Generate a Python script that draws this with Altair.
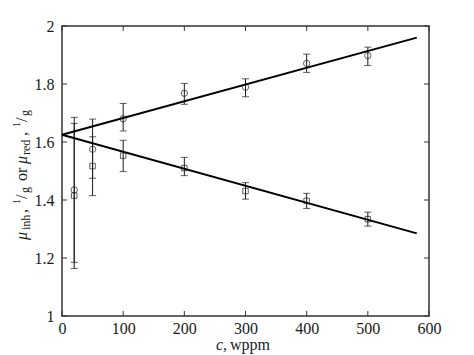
import altair as alt
import pandas as pd

# ---- data ----
c_vals = [20, 50, 100, 200, 300, 400, 500]

red_vals = [1.435, 1.575, 1.680, 1.768, 1.789, 1.871, 1.898]
red_lo = [1.185, 1.475, 1.638, 1.730, 1.756, 1.840, 1.864]
red_hi = [1.685, 1.679, 1.733, 1.802, 1.818, 1.903, 1.927]

inh_vals = [1.415, 1.517, 1.553, 1.510, 1.431, 1.397, 1.334]
inh_lo = [1.164, 1.415, 1.498, 1.484, 1.403, 1.371, 1.310]
inh_hi = [1.664, 1.618, 1.606, 1.547, 1.460, 1.423, 1.358]

fit_c = [0, 580]
fit_upper = [1.625, 1.960]
fit_lower = [1.625, 1.285]

x_ticks = [0, 100, 200, 300, 400, 500, 600]
y_ticks = [1.0, 1.2, 1.4, 1.6, 1.8, 2.0]

# ---- layout ----
W, H = 367, 290
FONT = "'Liberation Serif', 'DejaVu Serif', serif"
INK = "#1a1a1a"

pts = pd.DataFrame({
    "c": c_vals * 2,
    "v": red_vals + inh_vals,
    "lo": red_lo + inh_lo,
    "hi": red_hi + inh_hi,
    "s": ["red"] * len(c_vals) + ["inh"] * len(c_vals),
})
fit = pd.DataFrame({
    "c": fit_c * 2,
    "v": fit_upper + fit_lower,
    "s": ["up"] * 2 + ["down"] * 2,
})
xt = pd.DataFrame({"t": x_ticks})
yt = pd.DataFrame({"t": y_ticks})

xs = alt.Scale(domain=[0, 600], nice=False, zero=False)
ys = alt.Scale(domain=[1, 2], nice=False, zero=False)

xax = alt.Axis(values=x_ticks, ticks=False, domain=False, grid=False, title=None,
               labelFont=FONT, labelFontSize=16, labelColor=INK, labelPadding=4,
               labelFlush=False, labelOverlap=False)
yax = alt.Axis(values=y_ticks, ticks=False, domain=False, grid=False, title=None,
               format="~g", labelFont=FONT, labelFontSize=16, labelColor=INK,
               labelPadding=8, labelFlush=False, labelOverlap=False)

base = alt.Chart(pts)

bars = base.mark_rule(color=INK, strokeWidth=1).encode(
    x=alt.X("c:Q", scale=xs, axis=xax),
    y=alt.Y("lo:Q", scale=ys, axis=yax),
    y2="hi:Q",
)
cap_lo = base.mark_tick(orient="horizontal", size=7, thickness=1, color=INK).encode(
    x=alt.X("c:Q", scale=xs), y=alt.Y("lo:Q", scale=ys))
cap_hi = base.mark_tick(orient="horizontal", size=7, thickness=1, color=INK).encode(
    x=alt.X("c:Q", scale=xs), y=alt.Y("hi:Q", scale=ys))

circles = base.transform_filter(alt.datum.s == "red").mark_point(
    shape="circle", filled=False, size=40, stroke=INK, strokeWidth=1).encode(
    x=alt.X("c:Q", scale=xs), y=alt.Y("v:Q", scale=ys))
squares = base.transform_filter(alt.datum.s == "inh").mark_point(
    shape="square", filled=False, size=30, stroke=INK, strokeWidth=1).encode(
    x=alt.X("c:Q", scale=xs), y=alt.Y("v:Q", scale=ys))

lines = alt.Chart(fit).mark_line(color="black", strokeWidth=2).encode(
    x=alt.X("c:Q", scale=xs), y=alt.Y("v:Q", scale=ys), detail="s:N")

# inward ticks on all four sides
tk = dict(color="#333333", strokeWidth=1)
t_bottom = alt.Chart(xt).mark_rule(**tk).encode(
    x=alt.X("t:Q", scale=xs), y=alt.value(H), y2=alt.value(H - 5))
t_top = alt.Chart(xt).mark_rule(**tk).encode(
    x=alt.X("t:Q", scale=xs), y=alt.value(0), y2=alt.value(5))
t_left = alt.Chart(yt).mark_rule(**tk).encode(
    y=alt.Y("t:Q", scale=ys), x=alt.value(0), x2=alt.value(5))
t_right = alt.Chart(yt).mark_rule(**tk).encode(
    y=alt.Y("t:Q", scale=ys), x=alt.value(W), x2=alt.value(W - 5))

# ---- titles (rich text built from pieces) ----
OX, OY = 62, 26  # plot origin in the page


def piece(text, ax, ay, size=16, style="normal", angle=0):
    return alt.Chart(pd.DataFrame({"a": [0]})).mark_text(
        text=text, font=FONT, fontSize=size, fontStyle=style, color=INK,
        align="left", baseline="alphabetic", angle=angle,
    ).encode(x=alt.value(ax - OX), y=alt.value(ay - OY))


# x title: "c, wppm"
xtitle = [
    piece("c", 216, 350, style="italic"),
    piece(",", 223, 350),
    piece("wppm", 230, 350),
]

# y title (rotated, bottom to top): μ_inh, ¹/g or μ_red, ¹/g
BX = 27
ytitle = [
    piece("μ", BX, 240, style="italic", angle=270),
    piece("inh", BX + 3, 230, size=12, angle=270),
    piece(",", BX, 213, angle=270),
    piece("1", BX - 7, 204, size=10, angle=270),
    piece("/", BX, 199, angle=270),
    piece("g", BX + 2, 193, size=12, angle=270),
    piece("or", BX, 181, angle=270),
    piece("μ", BX, 164, style="italic", angle=270),
    piece("red", BX + 3, 155, size=12, angle=270),
    piece(",", BX, 136, angle=270),
    piece("1", BX - 7, 127, size=10, angle=270),
    piece("/", BX, 122, angle=270),
    piece("g", BX + 2, 116, size=12, angle=270),
]

chart = alt.layer(
    bars, cap_lo, cap_hi, lines, circles, squares,
    t_bottom, t_top, t_left, t_right,
    *xtitle, *ytitle,
).properties(
    width=W, height=H,
    autosize=alt.AutoSizeParams(type="none"),
    padding={"left": OX, "top": OY, "right": 474 - OX - W, "bottom": 355 - OY - H},
    background="white",
).configure_view(
    stroke="#333333", strokeWidth=1.5
)

chart.save("out.html", embed_options={"renderer": "svg", "actions": False})
